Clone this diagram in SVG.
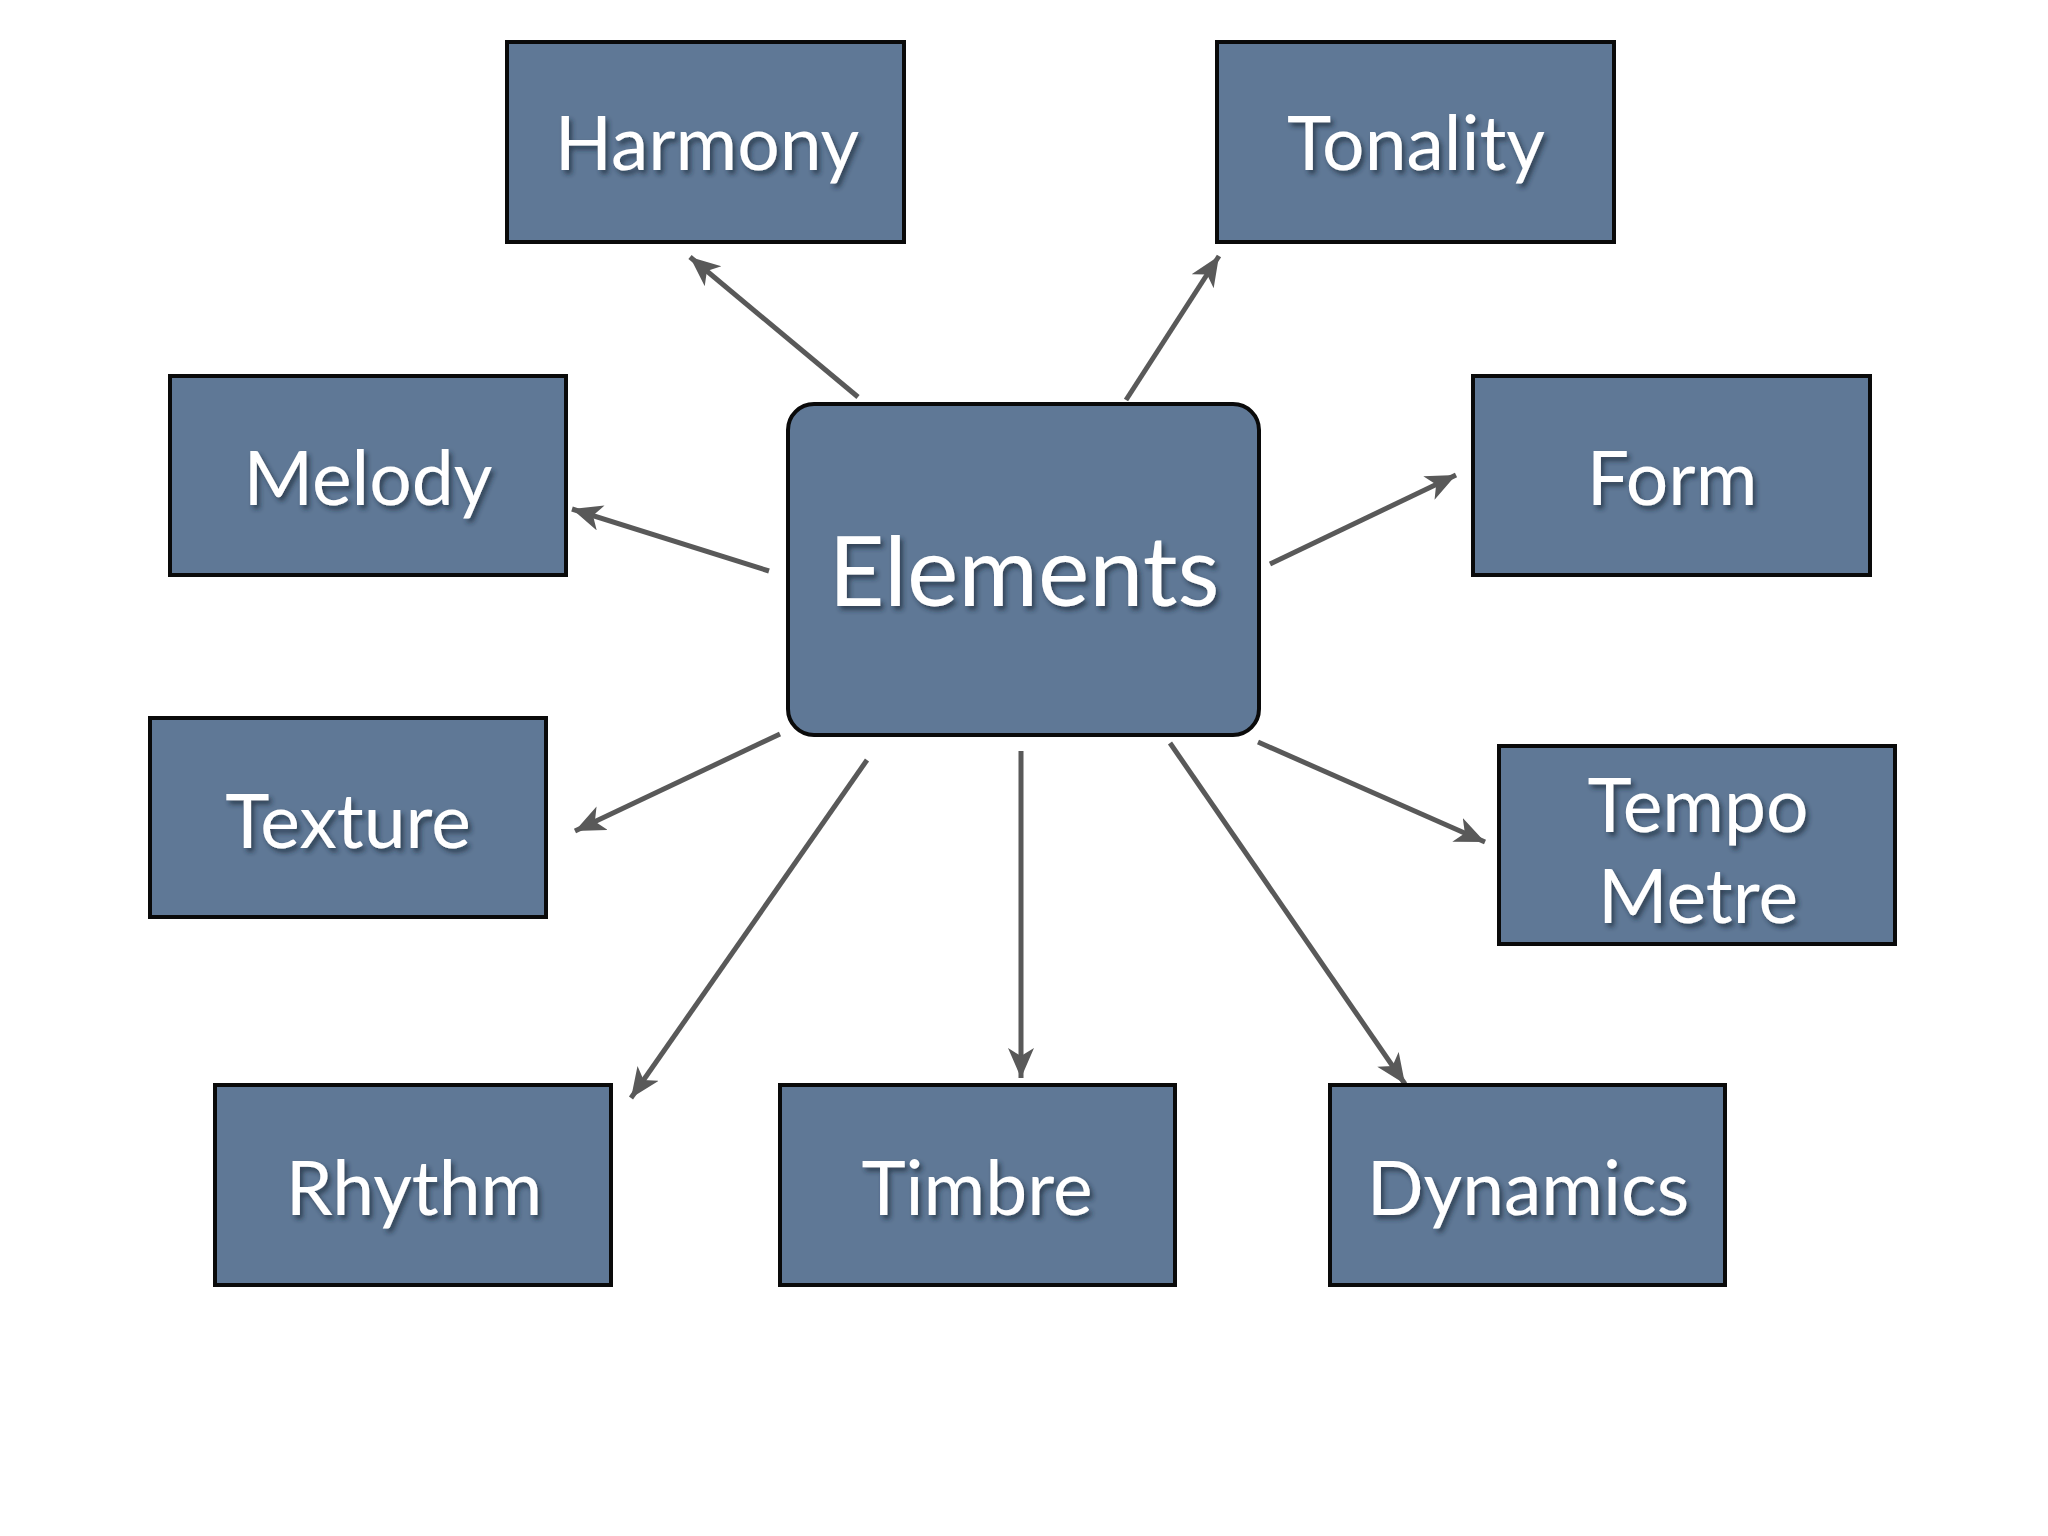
<svg xmlns="http://www.w3.org/2000/svg" width="2048" height="1536" viewBox="0 0 2048 1536">
<defs>
<style>
.box{fill:#5f7896;stroke:#0a0a0a;stroke-width:4}
.lbl{font-family:Lato,"Open Sans","Noto Sans",sans-serif;font-size:75px;fill:#ffffff;text-anchor:middle;filter:url(#sh)}
.big{font-size:97px}
.con{stroke:#595959;stroke-width:5;fill:none;marker-end:url(#ah)}
</style>
<filter id="sh" x="-10%" y="-20%" width="130%" height="150%">
<feDropShadow dx="3" dy="4" stdDeviation="2.5" flood-color="#1e2a38" flood-opacity="0.7"/>
</filter>
<marker id="ah" markerUnits="userSpaceOnUse" markerWidth="34" markerHeight="28" refX="30" refY="13" orient="auto">
<path d="M0,0 L30,13 L0,26 L8,13 z" fill="#595959"/>
</marker>
</defs>
<rect width="2048" height="1536" fill="#ffffff"/>
<g id="connectors">
<line class="con" x1="858" y1="397" x2="690" y2="257"/>
<line class="con" x1="1126" y1="400" x2="1219" y2="256"/>
<line class="con" x1="769" y1="571" x2="572" y2="509"/>
<line class="con" x1="1270" y1="564" x2="1456" y2="475"/>
<line class="con" x1="780" y1="734" x2="575" y2="831"/>
<line class="con" x1="1258" y1="742" x2="1485" y2="842"/>
<line class="con" x1="867" y1="760" x2="631" y2="1098"/>
<line class="con" x1="1021" y1="751" x2="1021" y2="1078"/>
<line class="con" x1="1170" y1="743" x2="1405" y2="1084"/>
</g>
<g id="elements">
<rect class="box" x="788" y="404" width="471" height="331" rx="26"/>
<text class="lbl big" x="1024" y="606">Elements</text>
</g>
<g id="harmony">
<rect class="box" x="507" y="42" width="397" height="200"/>
<text class="lbl" x="707" y="170">Harmony</text>
</g>
<g id="tonality">
<rect class="box" x="1217" y="42" width="397" height="200"/>
<text class="lbl" x="1416" y="170">Tonality</text>
</g>
<g id="melody">
<rect class="box" x="170" y="376" width="396" height="199"/>
<text class="lbl" x="368" y="505">Melody</text>
</g>
<g id="form">
<rect class="box" x="1473" y="376" width="397" height="199"/>
<text class="lbl" x="1672" y="505">Form</text>
</g>
<g id="texture">
<rect class="box" x="150" y="718" width="396" height="199"/>
<text class="lbl" x="348" y="848">Texture</text>
</g>
<g id="tempo-metre">
<rect class="box" x="1499" y="746" width="396" height="198"/>
<text class="lbl" x="1698" y="832">Tempo</text>
<text class="lbl" x="1698" y="923">Metre</text>
</g>
<g id="rhythm">
<rect class="box" x="215" y="1085" width="396" height="200"/>
<text class="lbl" x="414" y="1215">Rhythm</text>
</g>
<g id="timbre">
<rect class="box" x="780" y="1085" width="395" height="200"/>
<text class="lbl" x="977" y="1215">Timbre</text>
</g>
<g id="dynamics">
<rect class="box" x="1330" y="1085" width="395" height="200"/>
<text class="lbl" x="1528" y="1215">Dynamics</text>
</g>
</svg>
